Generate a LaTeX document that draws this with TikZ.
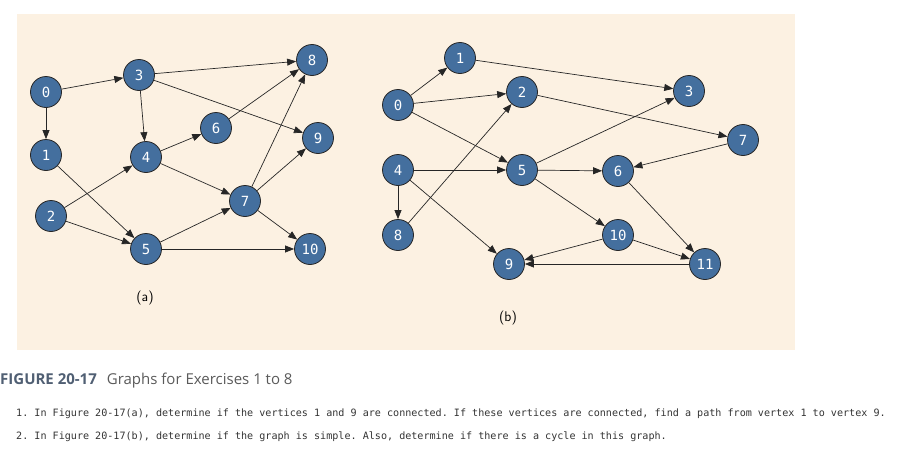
\documentclass[tikz,border=0pt]{standalone}
\usepackage{fontspec}
\setmainfont{DejaVu Sans}
\setmonofont{DejaVu Sans Mono}
\newfontfamily\capfont{Open Sans}
\usetikzlibrary{arrows.meta}
\definecolor{bg}{RGB}{252,241,226}
\definecolor{nodeblue}{RGB}{68,111,158}
\definecolor{capgray}{RGB}{90,90,90}
\definecolor{capblue}{RGB}{80,95,115}
\begin{document}
\begin{tikzpicture}[x=1pt,y=-1pt,
 vtx/.style={circle,draw=black!85,line width=0.8pt,fill=nodeblue,text=white,minimum size=31pt,inner sep=0pt,font=\ttfamily\fontsize{14}{14}\selectfont},
 edge/.style={-{Triangle[length=9pt,width=7pt]},line width=0.7pt,black!85},
 sub/.style={font=\sffamily\fontsize{14}{14}\selectfont},
 qtext/.style={anchor=west,inner sep=0pt,font=\ttfamily\fontsize{10.1}{10.1}\selectfont,text=black!80}]
\useasboundingbox (0,0) rectangle (899,455);
\fill[bg] (17,14) rectangle (795,350);
% (a)
\node[vtx] (a0) at (46,92) {0};
\node[vtx] (a3) at (139,75) {3};
\node[vtx] (a8) at (312,60) {8};
\node[vtx] (a1) at (46,155) {1};
\node[vtx] (a4) at (146,157) {4};
\node[vtx] (a6) at (216,128) {6};
\node[vtx] (a9) at (318,138) {9};
\node[vtx] (a2) at (51,216) {2};
\node[vtx] (a7) at (245,201) {7};
\node[vtx] (a5) at (146,249) {5};
\node[vtx] (a10) at (310,249) {10};
\foreach \s/\t in {a0/a3,a0/a1,a3/a8,a3/a4,a3/a9,a1/a5,a2/a4,a2/a5,a4/a6,a4/a7,a6/a8,a5/a7,a5/a10,a7/a8,a7/a9,a7/a10}
 \draw[edge] (\s) -- (\t);
\node[sub] (la) at (145,298) {(a)};
% (b)
\node[vtx] (b1) at (460,58) {1};
\node[vtx] (b3) at (689,91) {3};
\node[vtx] (b0) at (398,105) {0};
\node[vtx] (b2) at (522,92) {2};
\node[vtx] (b7) at (743,140) {7};
\node[vtx] (b4) at (398,170) {4};
\node[vtx] (b5) at (522,170) {5};
\node[vtx] (b6) at (618,171) {6};
\node[vtx] (b8) at (398,235) {8};
\node[vtx] (b10) at (618,235) {10};
\node[vtx] (b9) at (509,264) {9};
\node[vtx] (b11) at (705,264) {11};
\foreach \s/\t in {b0/b1,b0/b2,b0/b5,b1/b3,b2/b7,b4/b8,b4/b5,b4/b9,b5/b6,b5/b3,b5/b10,b7/b6,b6/b11,b10/b9,b10/b11,b11/b9,b8/b2}
 \draw[edge] (\s) -- (\t);
\node[sub] (lb) at (508,318) {(b)};
% caption
\node[anchor=west,inner sep=0pt,text=capgray] (cap) at (0,381) {{\capfont\bfseries\fontsize{15}{15}\selectfont\color{capblue}FIGURE 20-17}\quad{\capfont\fontsize{15}{15}\selectfont Graphs for Exercises 1 to 8}};
\node[qtext] (q1) at (16,414) {1. In Figure 20-17(a), determine if the vertices 1 and 9 are connected. If these vertices are connected, find a path from vertex 1 to vertex 9.};
\node[qtext] (q2) at (16,437) {2. In Figure 20-17(b), determine if the graph is simple. Also, determine if there is a cycle in this graph.};
\end{tikzpicture}
\end{document}
